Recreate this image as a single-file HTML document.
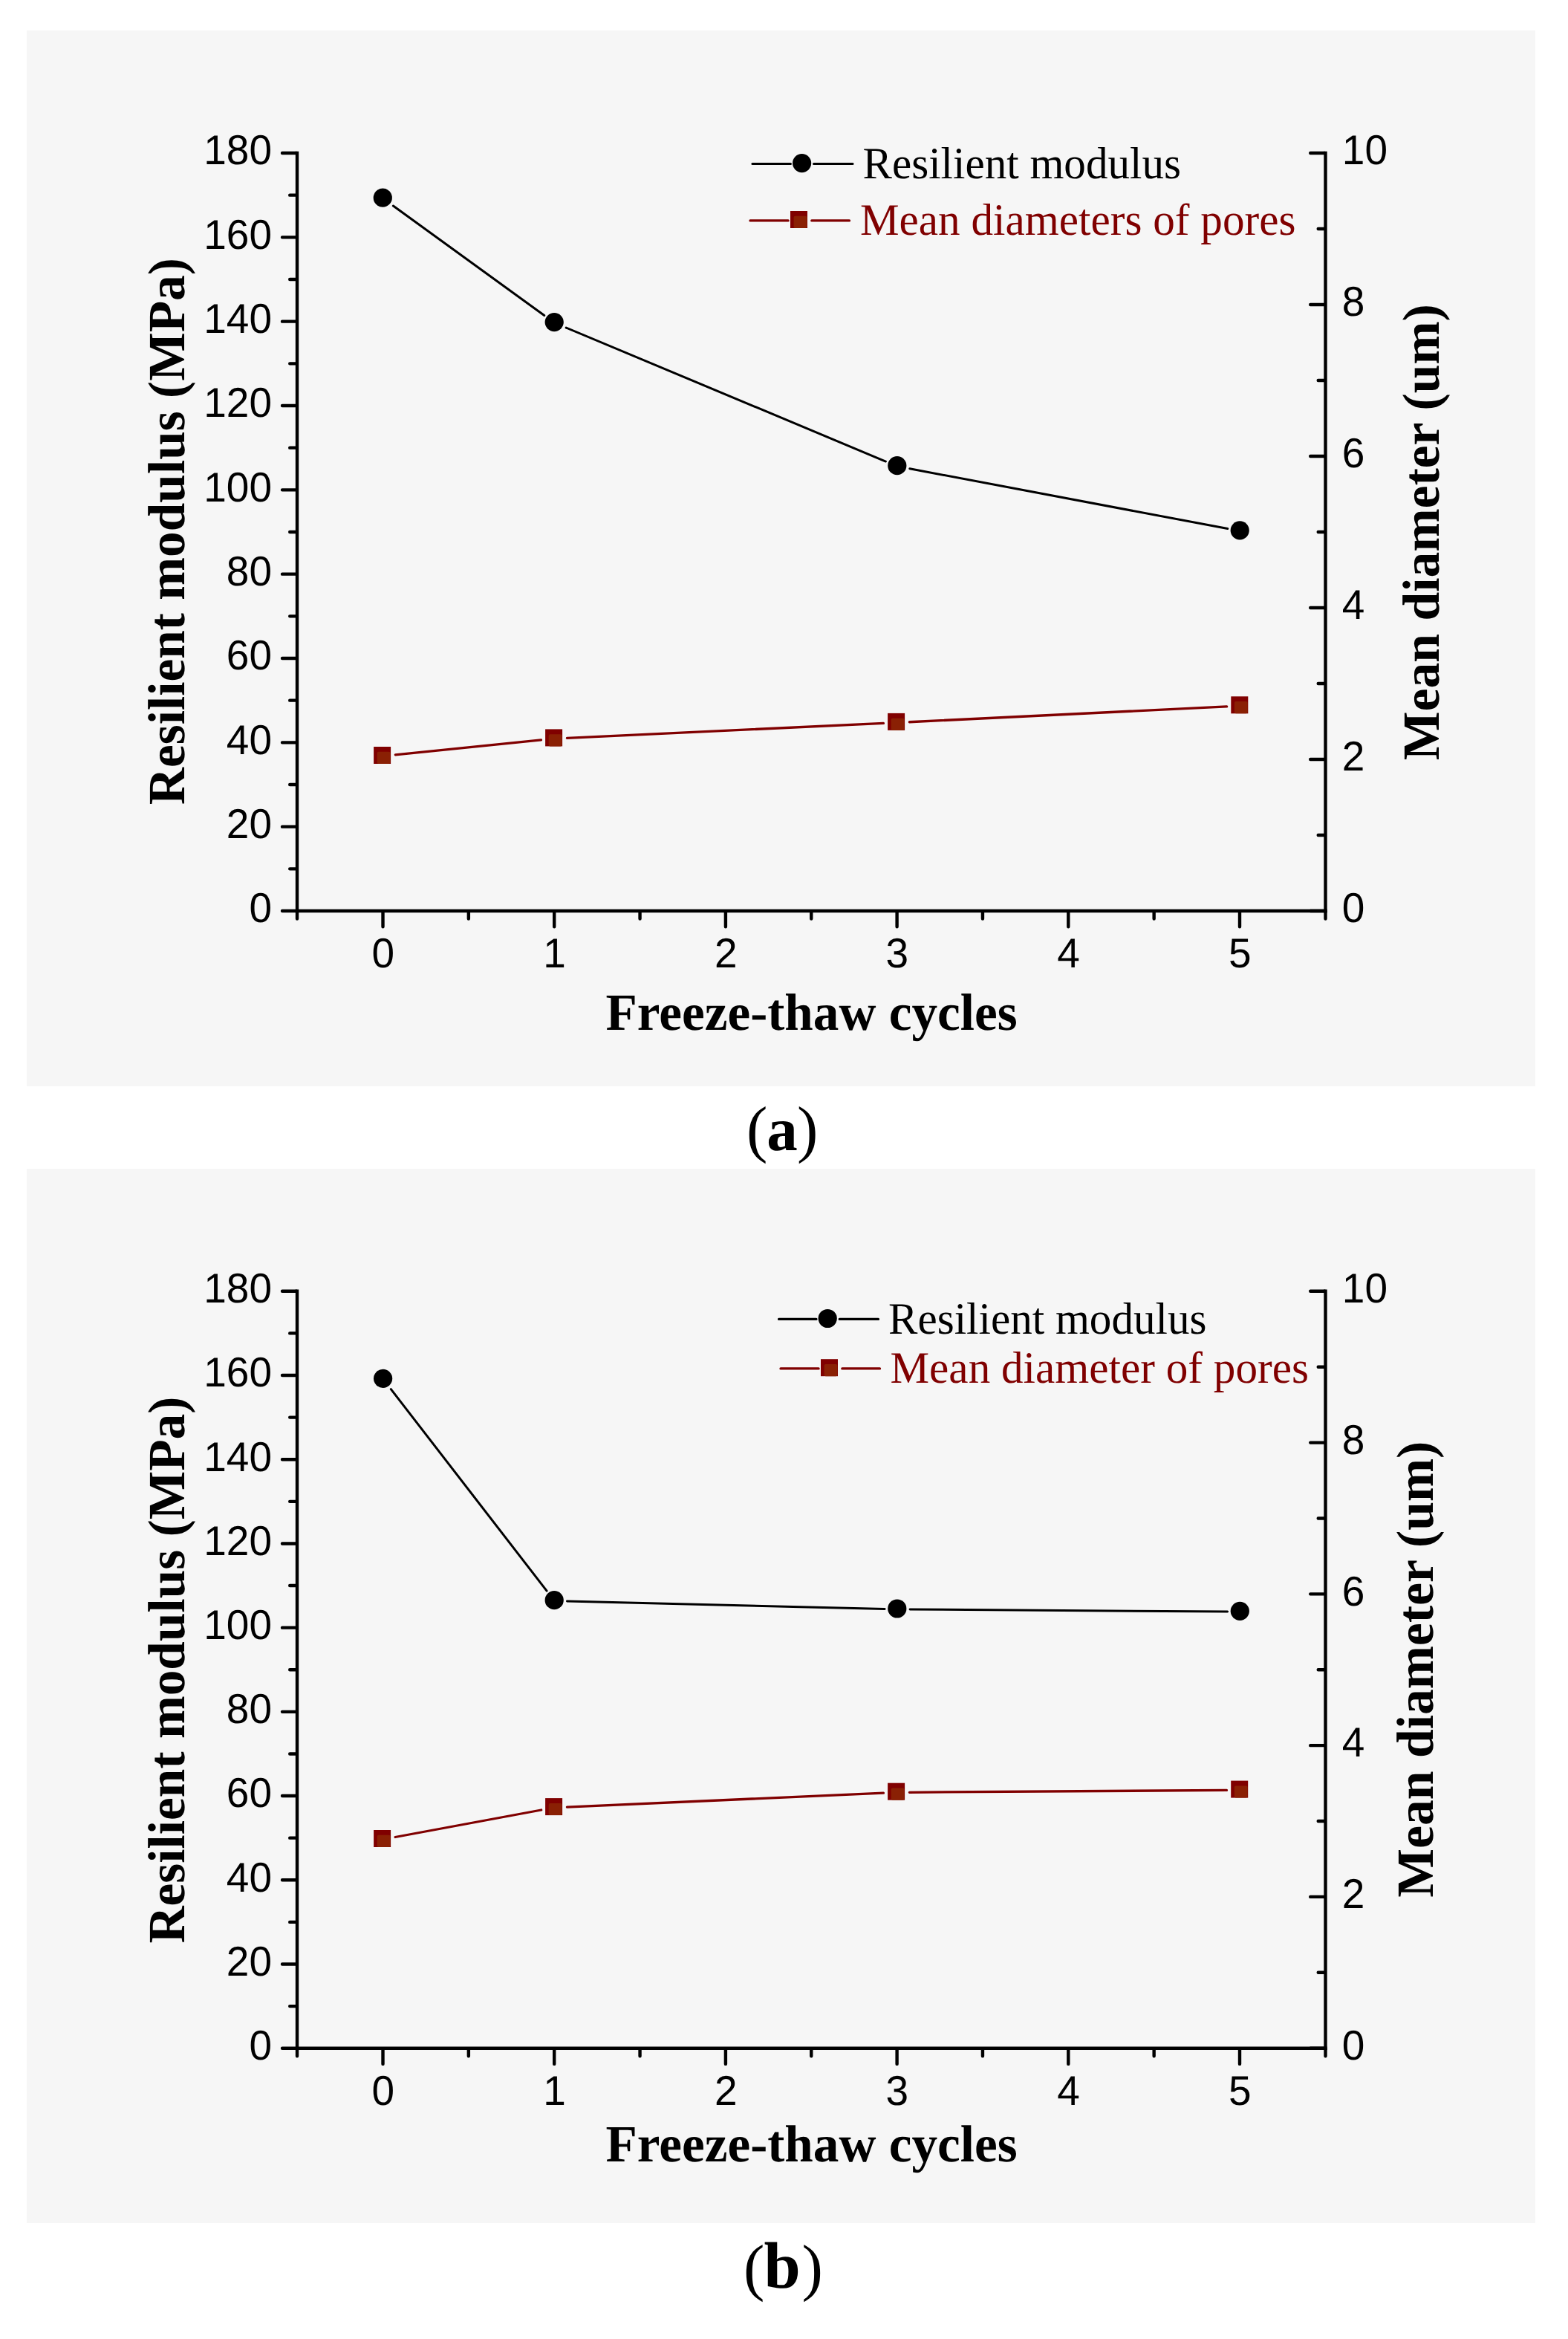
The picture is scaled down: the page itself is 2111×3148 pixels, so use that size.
<!DOCTYPE html>
<html lang="en"><head><meta charset="utf-8"><title>Resilient modulus and mean pore diameter vs freeze-thaw cycles</title>
<style>
html,body{margin:0;padding:0;background:#fff;}
body{width:2111px;height:3148px;overflow:hidden;}
svg{display:block;}
text{text-rendering:geometricPrecision;}
.tk{font-family:"Liberation Sans",sans-serif;font-size:55px;fill:#000;}
.ti{font-family:"Liberation Serif",serif;font-weight:bold;font-size:69px;fill:#000;}
.lg{font-family:"Liberation Serif",serif;font-size:60.5px;}
.cap{font-family:"Liberation Serif",serif;font-size:85.2px;fill:#000;}
.ax{stroke:#000;stroke-width:4.4;fill:none;stroke-linecap:butt;}
</style></head><body>
<svg width="2111" height="3148" viewBox="0 0 2111 3148">
<rect x="0" y="0" width="2111" height="3148" fill="#ffffff"/>
<rect x="36" y="41" width="2031" height="1421" fill="#f6f6f6"/>
<g class="ax">
<path d="M400 203.8V1228.2"/>
<path d="M1784.5 203.8V1228.2"/>
<path d="M400 1226H1786.7"/>
<path d="M380 206H399M390.2 262.67H399M380 319.33H399M390.2 376H399M380 432.67H399M390.2 489.33H399M380 546H399M390.2 602.67H399M380 659.33H399M390.2 716H399M380 772.67H399M390.2 829.33H399M380 886H399M390.2 942.67H399M380 999.33H399M390.2 1056H399M380 1112.67H399M390.2 1169.33H399M380 1226H399M1764.2 206H1783.5M1774.7 308H1783.5M1764.2 410H1783.5M1774.7 512H1783.5M1764.2 614H1783.5M1774.7 716H1783.5M1764.2 818H1783.5M1774.7 920H1783.5M1764.2 1022H1783.5M1774.7 1124H1783.5M1764.2 1226H1783.5M515.5 1227V1247.2M746.2 1227V1247.2M976.9 1227V1247.2M1207.6 1227V1247.2M1438.3 1227V1247.2M1669 1227V1247.2M400 1227V1236.5M630.85 1227V1236.5M861.55 1227V1236.5M1092.25 1227V1236.5M1322.95 1227V1236.5M1553.65 1227V1236.5M1784.5 1227V1236.5" stroke-linecap="round"/>
</g>
<g class="tk">
<g text-anchor="end">
<text transform="translate(366 221.4) scale(1 1.02)">180</text>
<text transform="translate(366 334.73) scale(1 1.02)">160</text>
<text transform="translate(366 448.07) scale(1 1.02)">140</text>
<text transform="translate(366 561.4) scale(1 1.02)">120</text>
<text transform="translate(366 674.73) scale(1 1.02)">100</text>
<text transform="translate(366 788.07) scale(1 1.02)">80</text>
<text transform="translate(366 901.4) scale(1 1.02)">60</text>
<text transform="translate(366 1014.73) scale(1 1.02)">40</text>
<text transform="translate(366 1128.07) scale(1 1.02)">20</text>
<text transform="translate(366 1241.4) scale(1 1.02)">0</text>
</g><g text-anchor="start">
<text transform="translate(1806.8 221.3) scale(1 1.02)">10</text>
<text transform="translate(1806.8 425.3) scale(1 1.02)">8</text>
<text transform="translate(1806.8 629.3) scale(1 1.02)">6</text>
<text transform="translate(1806.8 833.3) scale(1 1.02)">4</text>
<text transform="translate(1806.8 1037.3) scale(1 1.02)">2</text>
<text transform="translate(1806.8 1241.3) scale(1 1.02)">0</text>
</g><g text-anchor="middle">
<text transform="translate(515.8 1302.4) scale(1 1.02)">0</text>
<text transform="translate(746.5 1302.4) scale(1 1.02)">1</text>
<text transform="translate(977.2 1302.4) scale(1 1.02)">2</text>
<text transform="translate(1207.9 1302.4) scale(1 1.02)">3</text>
<text transform="translate(1438.6 1302.4) scale(1 1.02)">4</text>
<text transform="translate(1669.3 1302.4) scale(1 1.02)">5</text>
</g></g>
<text class="ti" text-anchor="middle" x="1092.6" y="1386" style="font-size:70.4px" textLength="554" lengthAdjust="spacingAndGlyphs">Freeze-thaw cycles</text>
<text class="ti" text-anchor="middle" transform="translate(248 715.2) rotate(-90)" style="font-size:70.4px" textLength="736" lengthAdjust="spacingAndGlyphs">Resilient modulus (MPa)</text>
<text class="ti" text-anchor="middle" transform="translate(1937.4 716.2) rotate(-90)" style="font-size:70.4px" textLength="614" lengthAdjust="spacingAndGlyphs">Mean diameter (um)</text>
<path d="M529.36 277.08L732.74 424.52M762.18 441.06L1192.42 621.04M1224.8 630.75L1652.8 711.55" stroke="#000" stroke-width="3" fill="none" stroke-linecap="round"/>
<path d="M532.31 1015.92L728.49 995.88M763.38 993.28L1189.42 973.42M1224.38 971.75L1651.62 950.85" stroke="#800000" stroke-width="3.3" fill="none" stroke-linecap="round"/>
<circle cx="515.3" cy="266.2" r="12.6" fill="#000"/>
<circle cx="746.2" cy="433.6" r="12.6" fill="#000"/>
<circle cx="1207.8" cy="626.7" r="12.6" fill="#000"/>
<circle cx="1669.2" cy="713.8" r="12.6" fill="#000"/>
<rect x="503.1" y="1005" width="23" height="23" fill="#800000"/>
<rect x="507.7" y="1011.8" width="17.8" height="16.2" rx="2" fill="#8a2004"/>
<rect x="734.1" y="981.4" width="23" height="23" fill="#800000"/>
<rect x="738.7" y="988.2" width="17.8" height="16.2" rx="2" fill="#8a2004"/>
<rect x="1195.1" y="959.9" width="23" height="23" fill="#800000"/>
<rect x="1199.7" y="966.7" width="17.8" height="16.2" rx="2" fill="#8a2004"/>
<rect x="1657.3" y="937.3" width="23" height="23" fill="#800000"/>
<rect x="1661.9" y="944.1" width="17.8" height="16.2" rx="2" fill="#8a2004"/>
<path d="M1013 220.5H1064.4M1095.6 220.5H1148" stroke="#000" stroke-width="3.2" stroke-linecap="round" fill="none"/>
<circle cx="1079.6" cy="219.6" r="12.6" fill="#000"/>
<text class="lg" x="1161.5" y="240" fill="#000" textLength="428.5" lengthAdjust="spacingAndGlyphs">Resilient modulus</text>
<path d="M1010 296.9H1061.1M1092.8 296.9H1143.5" stroke="#800000" stroke-width="3.3" stroke-linecap="round" fill="none"/>
<rect x="1064" y="284" width="23" height="23" fill="#800000"/>
<rect x="1068.6" y="290.8" width="17.8" height="16.2" rx="2" fill="#8a2004"/>
<text class="lg" x="1158" y="316" fill="#800000" textLength="586.5" lengthAdjust="spacingAndGlyphs">Mean diameters of pores</text>
<text class="cap" y="1548.2"><tspan x="1005">(</tspan><tspan x="1032.3" font-weight="bold" style="font-size:83px">a</tspan><tspan x="1073">)</tspan></text>
<rect x="36" y="1573" width="2031" height="1419" fill="#f6f6f6"/>
<g class="ax">
<path d="M400 1735.6V2758.9"/>
<path d="M1784.5 1735.6V2758.9"/>
<path d="M400 2756.7H1786.7"/>
<path d="M380 1737.8H399M390.2 1794.41H399M380 1851.01H399M390.2 1907.62H399M380 1964.22H399M390.2 2020.83H399M380 2077.43H399M390.2 2134.04H399M380 2190.64H399M390.2 2247.25H399M380 2303.86H399M390.2 2360.46H399M380 2417.07H399M390.2 2473.67H399M380 2530.28H399M390.2 2586.88H399M380 2643.49H399M390.2 2700.09H399M380 2756.7H399M1764.2 1737.8H1783.5M1774.7 1839.69H1783.5M1764.2 1941.58H1783.5M1774.7 2043.47H1783.5M1764.2 2145.36H1783.5M1774.7 2247.25H1783.5M1764.2 2349.14H1783.5M1774.7 2451.03H1783.5M1764.2 2552.92H1783.5M1774.7 2654.81H1783.5M1764.2 2756.7H1783.5M515.5 2757.7V2777.9M746.2 2757.7V2777.9M976.9 2757.7V2777.9M1207.6 2757.7V2777.9M1438.3 2757.7V2777.9M1669 2757.7V2777.9M400 2757.7V2767.2M630.85 2757.7V2767.2M861.55 2757.7V2767.2M1092.25 2757.7V2767.2M1322.95 2757.7V2767.2M1553.65 2757.7V2767.2M1784.5 2757.7V2767.2" stroke-linecap="round"/>
</g>
<g class="tk">
<g text-anchor="end">
<text transform="translate(366 1753.2) scale(1 1.02)">180</text>
<text transform="translate(366 1866.41) scale(1 1.02)">160</text>
<text transform="translate(366 1979.62) scale(1 1.02)">140</text>
<text transform="translate(366 2092.83) scale(1 1.02)">120</text>
<text transform="translate(366 2206.04) scale(1 1.02)">100</text>
<text transform="translate(366 2319.26) scale(1 1.02)">80</text>
<text transform="translate(366 2432.47) scale(1 1.02)">60</text>
<text transform="translate(366 2545.68) scale(1 1.02)">40</text>
<text transform="translate(366 2658.89) scale(1 1.02)">20</text>
<text transform="translate(366 2772.1) scale(1 1.02)">0</text>
</g><g text-anchor="start">
<text transform="translate(1806.8 1753.1) scale(1 1.02)">10</text>
<text transform="translate(1806.8 1956.88) scale(1 1.02)">8</text>
<text transform="translate(1806.8 2160.66) scale(1 1.02)">6</text>
<text transform="translate(1806.8 2364.44) scale(1 1.02)">4</text>
<text transform="translate(1806.8 2568.22) scale(1 1.02)">2</text>
<text transform="translate(1806.8 2772) scale(1 1.02)">0</text>
</g><g text-anchor="middle">
<text transform="translate(515.8 2833.1) scale(1 1.02)">0</text>
<text transform="translate(746.5 2833.1) scale(1 1.02)">1</text>
<text transform="translate(977.2 2833.1) scale(1 1.02)">2</text>
<text transform="translate(1207.9 2833.1) scale(1 1.02)">3</text>
<text transform="translate(1438.6 2833.1) scale(1 1.02)">4</text>
<text transform="translate(1669.3 2833.1) scale(1 1.02)">5</text>
</g></g>
<text class="ti" text-anchor="middle" x="1092.6" y="2908.8" style="font-size:70.4px" textLength="554" lengthAdjust="spacingAndGlyphs">Freeze-thaw cycles</text>
<text class="ti" text-anchor="middle" transform="translate(248 2247.6) rotate(-90)" style="font-size:70.4px" textLength="736" lengthAdjust="spacingAndGlyphs">Resilient modulus (MPa)</text>
<text class="ti" text-anchor="middle" transform="translate(1929.3 2246.8) rotate(-90)" style="font-size:70.4px" textLength="614" lengthAdjust="spacingAndGlyphs">Mean diameter (um)</text>
<path d="M526.3 1869.65L736.1 2141.15M763.49 2155.02L1191.11 2165.48M1225.1 2166.02L1652.6 2169.08" stroke="#000" stroke-width="3" fill="none" stroke-linecap="round"/>
<path d="M532.11 2472.5L728.69 2436M763.38 2432.03L1189.42 2413.17M1224.4 2412.28L1651.5 2409.42" stroke="#800000" stroke-width="3.3" fill="none" stroke-linecap="round"/>
<circle cx="515.6" cy="1855.3" r="12.6" fill="#000"/>
<circle cx="746.2" cy="2153.7" r="12.6" fill="#000"/>
<circle cx="1207.8" cy="2165" r="12.6" fill="#000"/>
<circle cx="1669.3" cy="2168.3" r="12.6" fill="#000"/>
<rect x="503.1" y="2463" width="23" height="23" fill="#800000"/>
<rect x="507.7" y="2469.8" width="17.8" height="16.2" rx="2" fill="#8a2004"/>
<rect x="734.1" y="2420.1" width="23" height="23" fill="#800000"/>
<rect x="738.7" y="2426.9" width="17.8" height="16.2" rx="2" fill="#8a2004"/>
<rect x="1195.1" y="2399.7" width="23" height="23" fill="#800000"/>
<rect x="1199.7" y="2406.5" width="17.8" height="16.2" rx="2" fill="#8a2004"/>
<rect x="1657.2" y="2396.6" width="23" height="23" fill="#800000"/>
<rect x="1661.8" y="2403.4" width="17.8" height="16.2" rx="2" fill="#8a2004"/>
<path d="M1048.5 1775.4H1099M1130.2 1775.4H1182.5" stroke="#000" stroke-width="3.2" stroke-linecap="round" fill="none"/>
<circle cx="1114.2" cy="1774.5" r="12.6" fill="#000"/>
<text class="lg" x="1196" y="1795" fill="#000" textLength="428.5" lengthAdjust="spacingAndGlyphs">Resilient modulus</text>
<path d="M1051 1841.9H1102.1M1133.8 1841.9H1184.5" stroke="#800000" stroke-width="3.3" stroke-linecap="round" fill="none"/>
<rect x="1105" y="1829.2" width="23" height="23" fill="#800000"/>
<rect x="1109.6" y="1836" width="17.8" height="16.2" rx="2" fill="#8a2004"/>
<text class="lg" x="1198.5" y="1860.9" fill="#800000" textLength="563.5" lengthAdjust="spacingAndGlyphs">Mean diameter of pores</text>
<text class="cap" y="3080"><tspan x="1001">(</tspan><tspan x="1028.5" y="3079.4" font-weight="bold" style="font-size:88.5px">b</tspan><tspan x="1079.5" y="3080">)</tspan></text>
</svg>
</body></html>
